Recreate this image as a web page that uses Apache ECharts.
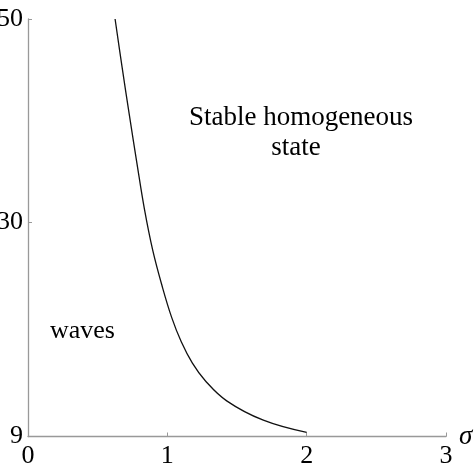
<!DOCTYPE html>
<html>
<head>
<meta charset="utf-8">
<script src="https://cdn.jsdelivr.net/npm/echarts@6/dist/echarts.min.js"></script>
<style>
html,body{margin:0;padding:0;background:#fff;}
#chart{width:474px;height:474px;}
</style>
</head>
<body>
<div id="chart"></div>
<script>
// Boundary curve (sigma, y)
const curveSigma = [0.625, 0.675, 0.727, 0.781, 0.836, 0.895, 0.962, 1.031, 1.1, 1.18, 1.271, 1.426, 1.689, 2.0];
const curveValue = [50, 45.3, 40.6, 35.9, 31.3, 27.3, 23.8, 20.7, 18.3, 16.2, 14.5, 12.5, 10.6, 9.4];
const xTicks = [0, 1, 2, 3];
const yTicks = [9, 30, 50];
const regionLabels = ["Stable homogeneous", "state", "waves"];
const xAxisName = "σ";

const FONT = "Liberation Serif";
const chart = echarts.init(document.getElementById('chart'), null, {renderer: 'canvas'});
const curveData = curveSigma.map((s, i) => [s, curveValue[i]]);

chart.setOption({
  backgroundColor: '#fff',
  animation: false,
  grid: {left: 28, right: 28, top: 19, bottom: 37.5, containLabel: false, outerBoundsMode: 'none'},
  xAxis: {
    type: 'value', min: 0, max: 3,
    name: xAxisName, nameLocation: 'end', nameGap: 13,
    nameTextStyle: {fontFamily: FONT, fontSize: 27, fontStyle: 'italic', color: '#000', padding: [8, 0, 0, 0]},
    axisLine: {show: true, onZero: false, lineStyle: {color: '#999', width: 1.3}},
    axisTick: {show: true, inside: true, length: 4, customValues: xTicks, lineStyle: {color: '#999', width: 1}},
    axisLabel: {show: true, customValues: xTicks, margin: 7, fontFamily: FONT, fontSize: 26, color: '#000'},
    splitLine: {show: false}
  },
  yAxis: {
    type: 'value', min: 9, max: 50,
    axisLine: {show: true, onZero: false, lineStyle: {color: '#999', width: 1.3}},
    axisTick: {show: true, inside: true, length: 4, customValues: yTicks, lineStyle: {color: '#999', width: 1}},
    axisLabel: {show: true, customValues: yTicks, margin: 5, fontFamily: FONT, fontSize: 26, color: '#000'},
    splitLine: {show: false}
  },
  graphic: [
    {type: 'text', x: 301, y: 117.5, style: {text: regionLabels[0], textAlign: 'center', textVerticalAlign: 'middle', font: '27px "Liberation Serif"', fill: '#000'}},
    {type: 'text', x: 296, y: 147.5, style: {text: regionLabels[1], textAlign: 'center', textVerticalAlign: 'middle', font: '27px "Liberation Serif"', fill: '#000'}},
    {type: 'text', x: 82.5, y: 331, style: {text: regionLabels[2], textAlign: 'center', textVerticalAlign: 'middle', font: '26px "Liberation Serif"', fill: '#000'}}
  ],
  series: [{
    type: 'line',
    data: curveData,
    smooth: 0.4,
    showSymbol: false,
    symbol: 'none',
    lineStyle: {color: '#111', width: 1.3},
    silent: true
  }]
});
</script>
</body>
</html>
